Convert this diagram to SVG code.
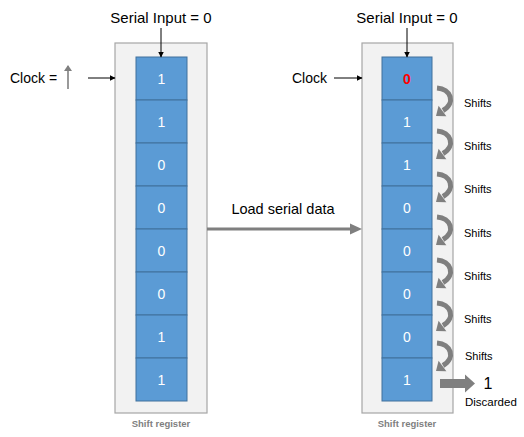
<svg xmlns="http://www.w3.org/2000/svg" width="524" height="437" viewBox="0 0 524 437">
<style>
.t{font-family:"Liberation Sans",Arial,sans-serif;fill:#000}
.outer{fill:#F2F2F2;stroke:#A6A6A6;stroke-width:1.2}
.cell{fill:#5B9BD5;stroke:#41719C;stroke-width:1}
.cv{font-family:"Liberation Sans",Arial,sans-serif;font-size:14px;fill:#fff;text-anchor:middle}
.lbl{font-family:"Liberation Sans",Arial,sans-serif;font-size:9.5px;font-weight:bold;fill:#7F7F7F;text-anchor:middle}
.thin{stroke:#000;stroke-width:1;fill:none}
.sh{font-family:"Liberation Sans",Arial,sans-serif;font-size:11px;fill:#000}
</style>
<defs>
<marker id="ah" markerWidth="6" markerHeight="6" refX="5.5" refY="3" orient="auto" markerUnits="userSpaceOnUse">
<path d="M0,0 L6,3 L0,6 Z" fill="#000"/>
</marker>
<marker id="ag" markerWidth="6" markerHeight="8" refX="5" refY="4" orient="auto" markerUnits="userSpaceOnUse">
<path d="M0,0 L6,4 L0,8 Z" fill="#808080"/>
</marker>
<g id="shiftArrow">
<path d="M437,-12 C451,-11 456,3 443,10.5" fill="none" stroke="#7F7F7F" stroke-width="5"/>
<polygon points="436,16 438.6,5.8 446.4,16.2" fill="#7F7F7F"/>
</g>
</defs>

<g id="left-register">
<rect class="outer" x="115" y="43" width="92" height="370"/>
<rect class="cell" x="136" y="57" width="51" height="43"/>
<rect class="cell" x="136" y="100" width="51" height="43"/>
<rect class="cell" x="136" y="143" width="51" height="43"/>
<rect class="cell" x="136" y="186" width="51" height="43"/>
<rect class="cell" x="136" y="229" width="51" height="43"/>
<rect class="cell" x="136" y="272" width="51" height="43"/>
<rect class="cell" x="136" y="315" width="51" height="43"/>
<rect class="cell" x="136" y="358" width="51" height="43"/>
<text class="cv" x="161.5" y="83.5">1</text>
<text class="cv" x="161.5" y="126.5">1</text>
<text class="cv" x="161.5" y="169.5">0</text>
<text class="cv" x="161.5" y="212.5">0</text>
<text class="cv" x="161.5" y="255.5">0</text>
<text class="cv" x="161.5" y="298.5">0</text>
<text class="cv" x="161.5" y="341.5">1</text>
<text class="cv" x="161.5" y="384.5">1</text>
<text class="lbl" x="161" y="427">Shift register</text>
</g>

<g id="right-register">
<rect class="outer" x="362" y="43" width="91" height="370"/>
<rect class="cell" x="382" y="57" width="50" height="43"/>
<rect class="cell" x="382" y="100" width="50" height="43"/>
<rect class="cell" x="382" y="143" width="50" height="43"/>
<rect class="cell" x="382" y="186" width="50" height="43"/>
<rect class="cell" x="382" y="229" width="50" height="43"/>
<rect class="cell" x="382" y="272" width="50" height="43"/>
<rect class="cell" x="382" y="315" width="50" height="43"/>
<rect class="cell" x="382" y="358" width="50" height="43"/>
<text class="cv" x="407" y="83.5" style="fill:#FF0000;font-weight:bold">0</text>
<text class="cv" x="407" y="126.5">1</text>
<text class="cv" x="407" y="169.5">1</text>
<text class="cv" x="407" y="212.5">0</text>
<text class="cv" x="407" y="255.5">0</text>
<text class="cv" x="407" y="298.5">0</text>
<text class="cv" x="407" y="341.5">0</text>
<text class="cv" x="407" y="384.5">1</text>
<text class="lbl" x="407" y="427">Shift register</text>
</g>

<g id="left-inputs">
<text class="t" x="161" y="23" font-size="15" text-anchor="middle">Serial Input = 0</text>
<text class="t" x="10" y="83" font-size="14">Clock =</text>
<line x1="68" y1="89" x2="68" y2="66" stroke="#808080" stroke-width="1.6" marker-end="url(#ag)"/>
</g>

<g id="right-inputs">
<text class="t" x="407" y="23" font-size="15" text-anchor="middle">Serial Input = 0</text>
<text class="t" x="292" y="83" font-size="14">Clock</text>
</g>

<g id="shift-labels">
<text class="sh" x="464" y="107">Shifts</text>
<text class="sh" x="464" y="150">Shifts</text>
<text class="sh" x="464" y="193">Shifts</text>
<text class="sh" x="464" y="237">Shifts</text>
<text class="sh" x="464" y="280">Shifts</text>
<text class="sh" x="464" y="323">Shifts</text>
<text class="sh" x="465" y="360">Shifts</text>
</g>

<g id="discarded">
<text class="t" x="488" y="389" font-size="16" text-anchor="middle">1</text>
<text class="t" x="465" y="406" font-size="11.5">Discarded</text>
</g>

<g id="connectors">
<line class="thin" x1="161" y1="28" x2="161" y2="57" marker-end="url(#ah)"/>
<line class="thin" x1="407" y1="28" x2="407" y2="57" marker-end="url(#ah)"/>
<line class="thin" x1="88" y1="78" x2="115" y2="78" marker-end="url(#ah)"/>
<line class="thin" x1="334" y1="78" x2="362" y2="78" marker-end="url(#ah)"/>
<line x1="207" y1="229" x2="352" y2="229" stroke="#7F7F7F" stroke-width="3"/>
<polygon points="350,223.5 362,229 350,234.5" fill="#7F7F7F"/>
<text class="t" x="283" y="214" font-size="14.5" text-anchor="middle">Load serial data</text>
<use href="#shiftArrow" y="100"/>
<use href="#shiftArrow" y="143"/>
<use href="#shiftArrow" y="186"/>
<use href="#shiftArrow" y="229"/>
<use href="#shiftArrow" y="272"/>
<use href="#shiftArrow" y="315"/>
<use href="#shiftArrow" y="355"/>
<rect x="440" y="379" width="26" height="9" fill="#7F7F7F"/>
<polygon points="465,374.5 475,383.5 465,392.5" fill="#7F7F7F"/>
</g>
</svg>
